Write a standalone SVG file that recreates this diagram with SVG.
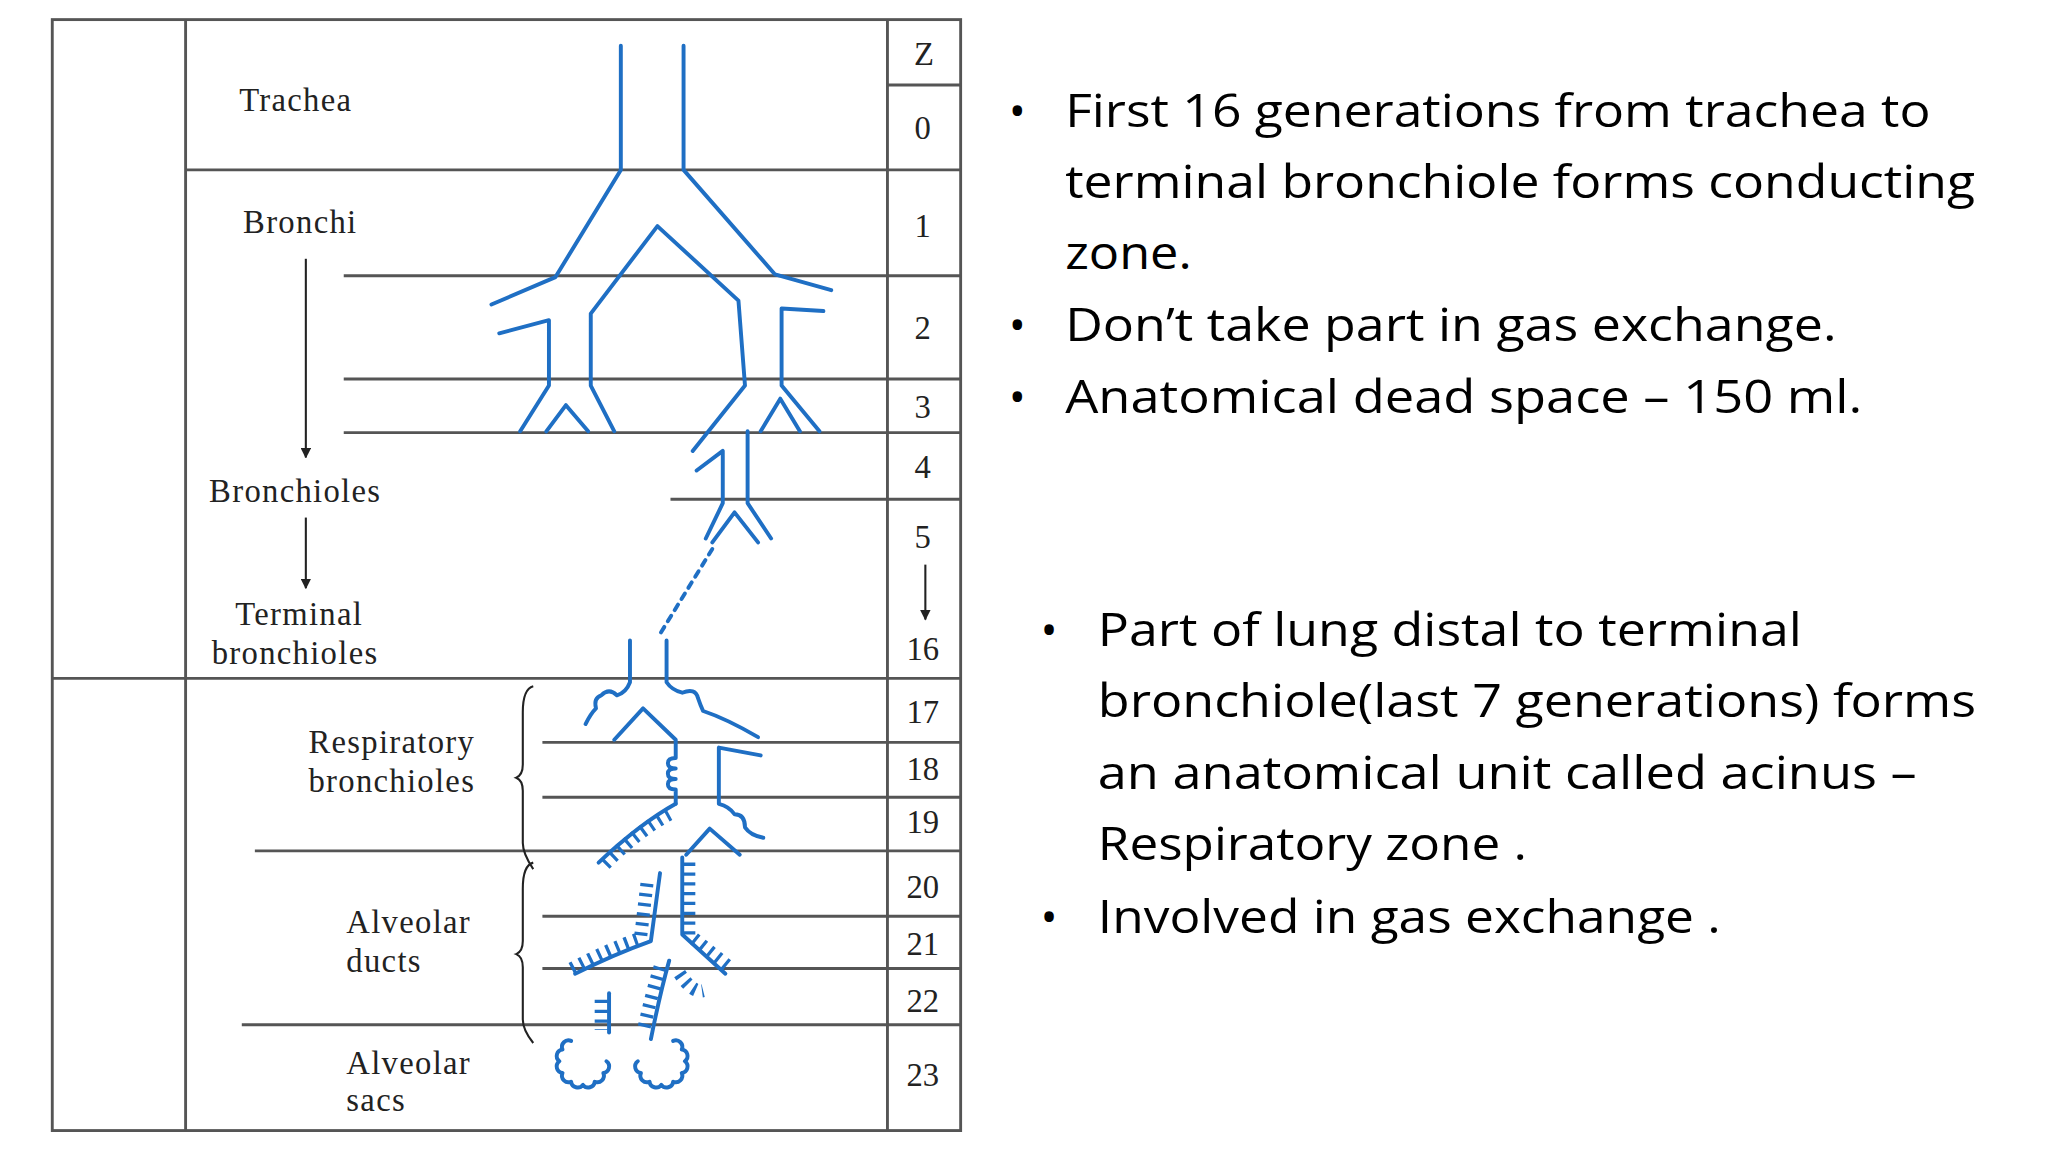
<svg xmlns="http://www.w3.org/2000/svg" width="2048" height="1152" viewBox="0 0 2048 1152">
<style>
.g{stroke:#555;stroke-width:2.2;fill:none}
.k{stroke:#222;stroke-width:1.6;fill:none}
.b{stroke:#1f6fc4;stroke-width:3;fill:none;stroke-linejoin:round;stroke-linecap:round}
.tk{stroke:#1f6fc4;stroke-width:10;fill:none;stroke-dasharray:2.5 5}
.l{font-family:"Liberation Serif",serif;font-size:25px;fill:#222;letter-spacing:1px}
.z{font-family:"Liberation Serif",serif;font-size:25px;fill:#222;text-anchor:middle}
.t{font-family:"Open Sans","Noto Sans",sans-serif;font-size:46px;fill:#000}
</style>
<defs>
<marker id="ah" viewBox="0 0 10 10" refX="9" refY="5" markerWidth="5" markerHeight="5" orient="auto"><path d="M0,0L10,5L0,10z" fill="#222"/></marker>
<path id="sac" class="b" d="M18 0a5 5 0 0 1 -2.4 9a5 5 0 0 1 -6.6 6.6a5 5 0 0 1 -9 2.4a5 5 0 0 1 -9 -2.4a5 5 0 0 1 -6.6 -6.6a5 5 0 0 1 -2.4 -9a5 5 0 0 1 2.4 -9a5 5 0 0 1 6.6 -6.6"/>
</defs>
<rect width="2048" height="1152" fill="#fff"/>
<g transform="scale(1.307)">
<g id="table">
<rect x="40" y="15" width="695" height="850" class="g"/>
<path class="g" d="M142 15V865M679 15V865M679 65H735M142 130H735M263 211H735M263 290H735M263 331H735M513 382H735M40 519H735M415 568H735M415 610H735M195 651H735M415 701H735M415 741H735M185 784H735"/>
<path class="k" d="M408 525q-8 2-8 20v40q0 8-5 10q5 2 5 10v40q0 8 8 20M408 660q-8 2-8 20v40q0 8-5 10q5 2 5 10v40q0 8 8 18"/>
</g>
<g id="labels">
<text class="l" x="183" y="85">Trachea</text>
<text class="l" x="186" y="178">Bronchi</text>
<text class="l" x="160" y="384">Bronchioles</text>
<text class="l" x="180" y="478">Terminal</text>
<text class="l" x="162" y="508">bronchioles</text>
<text class="l" x="236" y="576">Respiratory</text>
<text class="l" x="236" y="606">bronchioles</text>
<text class="l" x="265" y="714">Alveolar</text>
<text class="l" x="265" y="744">ducts</text>
<text class="l" x="265" y="822">Alveolar</text>
<text class="l" x="265" y="850">sacs</text>
</g>
<g id="zcol">
<text class="z" x="707" y="50">Z</text><text class="z" x="706" y="106">0</text>
<text class="z" x="706" y="181">1</text><text class="z" x="706" y="259">2</text>
<text class="z" x="706" y="320">3</text><text class="z" x="706" y="366">4</text>
<text class="z" x="706" y="419">5</text><text class="z" x="706" y="505">16</text>
<text class="z" x="706" y="553">17</text><text class="z" x="706" y="597">18</text>
<text class="z" x="706" y="637">19</text><text class="z" x="706" y="687">20</text>
<text class="z" x="706" y="731">21</text><text class="z" x="706" y="774">22</text>
<text class="z" x="706" y="831">23</text>
</g>
<g id="connectors">
<path class="k" d="M234 198V350" marker-end="url(#ah)"/>
<path class="k" d="M234 396V450" marker-end="url(#ah)"/>
<path class="k" d="M708 432V474" marker-end="url(#ah)"/>
</g>
<g id="tree">
<path class="b" d="M475 35V130L425 212L376 233M382 255L420 245V295L398 330M418 330L433 310L450 330M470 330L452 295V240L503 173L565 230L570 295L530 345M523 35V130L593 210L636 222M630 238L598 236V295L627 330M582 330L597 305L612 330M533 360L553 345V385L540 412M572 330V385L590 412M545 415L562 392L580 415"/>
<path class="b" d="M545 420L505 485" stroke-dasharray="5 5" stroke-width="2"/>
<path class="b" d="M482 490V522q-3 8-10 10q-6-6-12 0q-6 2-4 10q-4 4-8 12M510 490V522q4 6 12 8q10-4 12 4q2 6 4 10q18 6 42 20"/>
<path class="b" d="M470 566L492 542L517 566V580q-6 0-6 4t6 4q-6 0-6 4t6 4q-6 0-6 4t6 4V615"/>
<path class="b" d="M517 615Q490 630 458 660"/>
<path class="tk" d="M512 623Q488 636 462 662"/>
<path class="b" d="M550 572L582 578M550 572V615q8 2 12 8q8 0 8 10q4 6 14 8"/>
<path class="b" d="M525 654L543 634L566 654"/>
<path class="b" d="M522 656V715L555 745"/>
<path class="tk" d="M527 660V715L558 740"/>
<path class="b" d="M505 668L498 720Q470 730 440 745"/>
<path class="tk" d="M495 676L490 718Q466 726 436 742"/>
<path class="b" d="M512 735Q505 760 498 795"/>
<path class="tk" d="M505 740Q498 762 492 790"/>
<path class="b" d="M466 760L466 790"/>
<path class="tk" d="M460 765L460 788"/>
<path class="tk" d="M520 745Q530 760 538 758"/>
<use href="#sac" transform="translate(446 812)"/>
<use href="#sac" transform="translate(506 812) scale(-1 1)"/>
</g>
</g>
<g id="text" transform="scale(0.989)">
<g class="t">
<text x="1020" y="128">•</text><text x="1077" y="128" textLength="875" lengthAdjust="spacingAndGlyphs">First 16 generations from trachea to</text>
<text x="1077" y="200" textLength="920" lengthAdjust="spacingAndGlyphs">terminal bronchiole forms conducting</text>
<text x="1077" y="272" textLength="128" lengthAdjust="spacingAndGlyphs">zone.</text>
<text x="1020" y="345">•</text><text x="1077" y="345" textLength="780" lengthAdjust="spacingAndGlyphs">Don’t take part in gas exchange.</text>
<text x="1020" y="418">•</text><text x="1077" y="418" textLength="806" lengthAdjust="spacingAndGlyphs">Anatomical dead space – 150 ml.</text>
<text x="1052" y="653">•</text><text x="1110" y="653" textLength="712" lengthAdjust="spacingAndGlyphs">Part of lung distal to terminal</text>
<text x="1110" y="725" textLength="888" lengthAdjust="spacingAndGlyphs">bronchiole(last 7 generations) forms</text>
<text x="1110" y="798" textLength="828" lengthAdjust="spacingAndGlyphs">an anatomical unit called acinus –</text>
<text x="1110" y="870" textLength="434" lengthAdjust="spacingAndGlyphs">Respiratory zone .</text>
<text x="1052" y="943">•</text><text x="1110" y="943" textLength="630" lengthAdjust="spacingAndGlyphs">Involved in gas exchange .</text>
</g>
</g>
</svg>
